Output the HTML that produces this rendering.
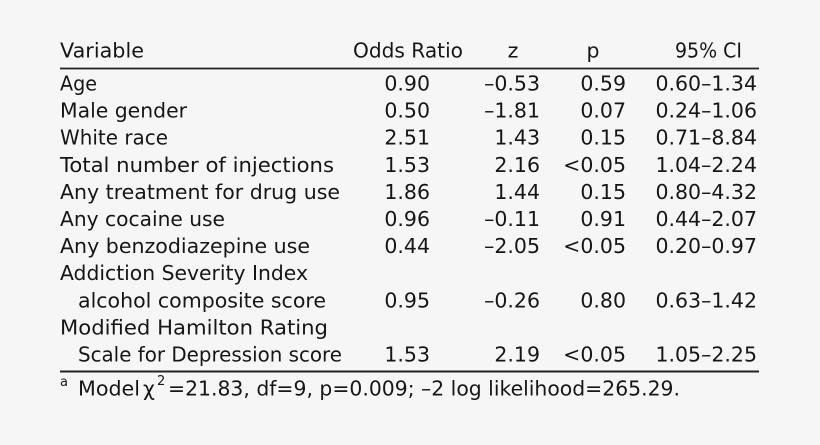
<!DOCTYPE html>
<html>
<head>
<meta charset="utf-8">
<style>
  html,body{margin:0;padding:0;background:#f6f6f6;}
  svg{display:block;}
  text{font-family:"DejaVu Sans","Liberation Sans",sans-serif;font-size:20.5px;fill:#161616;}
  .sup{font-size:13px;}
</style>
</head>
<body>
<svg width="820" height="445" viewBox="0 0 820 445" xmlns="http://www.w3.org/2000/svg">
  <rect x="0" y="0" width="820" height="445" fill="#f6f6f6"/>

  <!-- header -->
  <text x="60" y="57.5" textLength="84" lengthAdjust="spacingAndGlyphs">Variable</text>
  <text x="353" y="57.5" textLength="110" lengthAdjust="spacingAndGlyphs">Odds Ratio</text>
  <text x="513" y="57.5" text-anchor="middle">z</text>
  <text x="593" y="57.5" text-anchor="middle">p</text>
  <text x="675" y="57.5" textLength="67" lengthAdjust="spacingAndGlyphs">95% CI</text>

  <line x1="60" y1="68.5" x2="759" y2="68.5" stroke="#222" stroke-width="1.8"/>

  <!-- labels -->
  <text x="60" y="90.5" textLength="37" lengthAdjust="spacingAndGlyphs">Age</text>
  <text x="60" y="117.6" textLength="127" lengthAdjust="spacingAndGlyphs">Male gender</text>
  <text x="60" y="144.7" textLength="108" lengthAdjust="spacingAndGlyphs">White race</text>
  <text x="60" y="171.8" textLength="274" lengthAdjust="spacingAndGlyphs">Total number of injections</text>
  <text x="60" y="198.9" textLength="280" lengthAdjust="spacingAndGlyphs">Any treatment for drug use</text>
  <text x="60" y="226" textLength="165" lengthAdjust="spacingAndGlyphs">Any cocaine use</text>
  <text x="60" y="253.1" textLength="250" lengthAdjust="spacingAndGlyphs">Any benzodiazepine use</text>
  <text x="60" y="280.2" textLength="248" lengthAdjust="spacingAndGlyphs">Addiction Severity Index</text>
  <text x="78" y="307.3" textLength="248" lengthAdjust="spacingAndGlyphs">alcohol composite score</text>
  <text x="60" y="334.4" textLength="268" lengthAdjust="spacingAndGlyphs">Modified Hamilton Rating</text>
  <text x="78" y="361.5" textLength="264" lengthAdjust="spacingAndGlyphs">Scale for Depression score</text>

  <!-- Odds Ratio -->
  <g text-anchor="end">
    <text x="430" y="90.5">0.90</text>
    <text x="430" y="117.6">0.50</text>
    <text x="430" y="144.7">2.51</text>
    <text x="430" y="171.8">1.53</text>
    <text x="430" y="198.9">1.86</text>
    <text x="430" y="226">0.96</text>
    <text x="430" y="253.1">0.44</text>
    <text x="430" y="307.3">0.95</text>
    <text x="430" y="361.5">1.53</text>
  </g>

  <!-- z -->
  <g text-anchor="end">
    <text x="540" y="90.5">–0.53</text>
    <text x="540" y="117.6">–1.81</text>
    <text x="540" y="144.7">1.43</text>
    <text x="540" y="171.8">2.16</text>
    <text x="540" y="198.9">1.44</text>
    <text x="540" y="226">–0.11</text>
    <text x="540" y="253.1">–2.05</text>
    <text x="540" y="307.3">–0.26</text>
    <text x="540" y="361.5">2.19</text>
  </g>

  <!-- p -->
  <g text-anchor="end">
    <text x="626" y="90.5">0.59</text>
    <text x="626" y="117.6">0.07</text>
    <text x="626" y="144.7">0.15</text>
    <text x="626" y="171.8">&lt;0.05</text>
    <text x="626" y="198.9">0.15</text>
    <text x="626" y="226">0.91</text>
    <text x="626" y="253.1">&lt;0.05</text>
    <text x="626" y="307.3">0.80</text>
    <text x="626" y="361.5">&lt;0.05</text>
  </g>

  <!-- CI -->
  <g text-anchor="end">
    <text x="757" y="90.5">0.60–1.34</text>
    <text x="757" y="117.6">0.24–1.06</text>
    <text x="757" y="144.7">0.71–8.84</text>
    <text x="757" y="171.8">1.04–2.24</text>
    <text x="757" y="198.9">0.80–4.32</text>
    <text x="757" y="226">0.44–2.07</text>
    <text x="757" y="253.1">0.20–0.97</text>
    <text x="757" y="307.3">0.63–1.42</text>
    <text x="757" y="361.5">1.05–2.25</text>
  </g>

  <line x1="60" y1="371.5" x2="759" y2="371.5" stroke="#222" stroke-width="2"/>

  <!-- footnote -->
  <text class="sup" x="60" y="386">a</text>
  <text x="78" y="395.5" textLength="62" lengthAdjust="spacingAndGlyphs">Model</text>
  <text x="143" y="395.5" font-size="22">χ</text>
  <text class="sup" x="157" y="385">2</text>
  <text x="168" y="395.5" textLength="512" lengthAdjust="spacingAndGlyphs">=21.83, df=9, p=0.009; –2 log likelihood=265.29.</text>
</svg>
</body>
</html>
